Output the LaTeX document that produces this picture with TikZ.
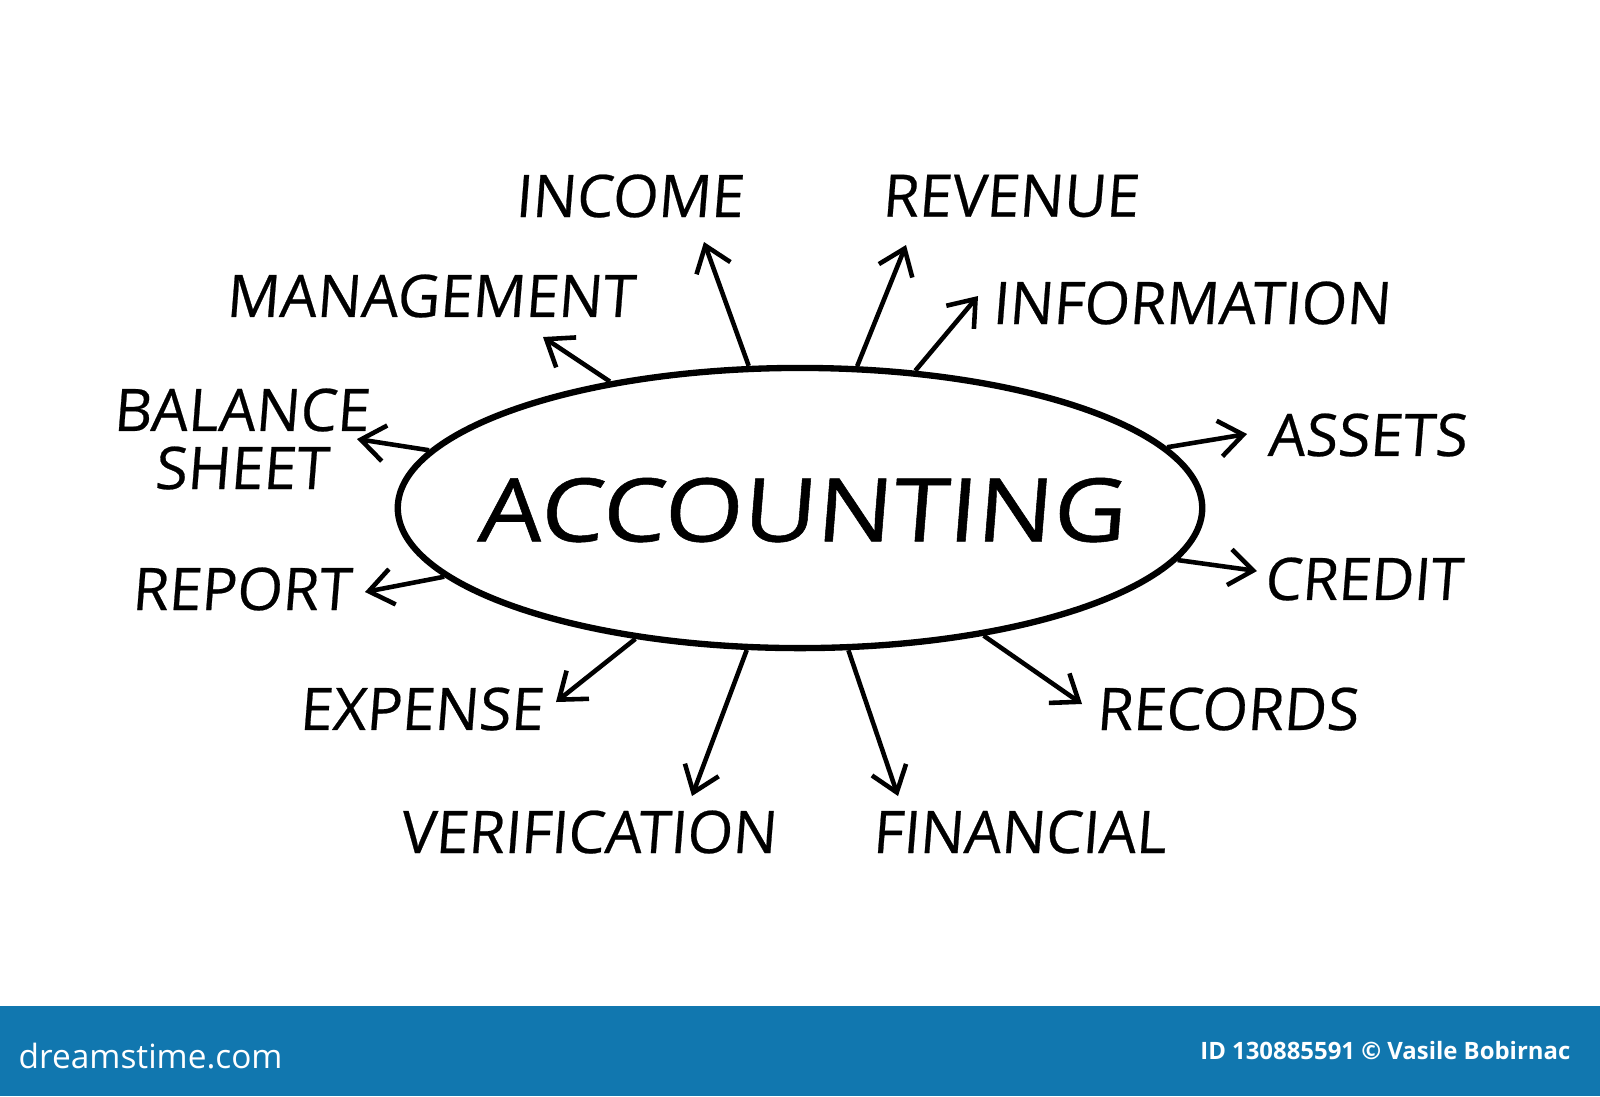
\documentclass[tikz,border=0pt]{standalone}
\usepackage{fontspec}
\setmainfont{Open Sans}[FakeSlant=0.08,FakeBold=0.4]
\newfontfamily\titlefont{Open Sans}[FakeSlant=0.08,FakeStretch=1.15,FakeBold=0.6]
\newfontfamily\bannerfont{Open Sans}
\usetikzlibrary{shapes.geometric,arrows.meta}
\definecolor{bannerblue}{HTML}{1177AF}

\begin{document}
\begin{tikzpicture}[x=0.01cm, y=-0.01cm,
  word/.style={font=\fontsize{16.7}{16.5}\selectfont, inner sep=0pt, align=center},
  spoke/.style={line width=1.3pt, -{Straight Barb[length=2.4mm,width=3.6mm,line width=1.3pt]}}]
\useasboundingbox (0,0) rectangle (1600,1096);
\fill [white] (0,0) rectangle (1600,1096);
\fill [bannerblue] (0,1006) rectangle (1600,1096);

\node [ellipse, draw, line width=1.8pt, minimum width=8.04cm, minimum height=2.8cm, inner sep=0pt] (acc) at (800,508) {};
\node [inner sep=0pt, font=\titlefont\fontsize{25}{30}\selectfont] (title) at (801,510) {ACCOUNTING};

\node [word] (income) at (629,196) {INCOME};
\node [word] (revenue) at (1010,196) {REVENUE};
\node [word] (management) at (430,296) {MANAGEMENT};
\node [word] (information) at (1191,303) {INFORMATION};
\node [word] (balance) at (241,439) {BALANCE\\ SHEET};
\node [word] (assets) at (1367,435) {ASSETS};
\node [word] (report) at (241,589) {REPORT};
\node [word] (credit) at (1363,579) {CREDIT};
\node [word] (expense) at (421,709) {EXPENSE};
\node [word] (records) at (1227,709) {RECORDS};
\node [word] (verification) at (588,832) {VERIFICATION};
\node [word] (financial) at (1019,832) {FINANCIAL};

\coordinate (incometip) at (704,242);
\coordinate (revenuetip) at (906,245);
\coordinate (informationtip) at (978,296);
\coordinate (managementtip) at (543,337);
\coordinate (balancetip) at (357,439);
\coordinate (assetstip) at (1247,434);
\coordinate (reporttip) at (365,592);
\coordinate (credittip) at (1257,571);
\coordinate (expensetip) at (556,702);
\coordinate (recordstip) at (1082,704);
\coordinate (verificationtip) at (692,796);
\coordinate (financialtip) at (898,796);

\draw [spoke] (acc) -- (incometip);
\draw [spoke] (acc) -- (revenuetip);
\draw [spoke] (acc) -- (informationtip);
\draw [spoke] (acc) -- (managementtip);
\draw [spoke] (acc) -- (balancetip);
\draw [spoke] (acc) -- (assetstip);
\draw [spoke] (acc) -- (reporttip);
\draw [spoke] (acc) -- (credittip);
\draw [spoke] (acc) -- (expensetip);
\draw [spoke] (acc) -- (recordstip);
\draw [spoke] (acc) -- (verificationtip);
\draw [spoke] (acc) -- (financialtip);

\node [anchor=west, inner sep=0pt, text=white, font=\bannerfont\fontsize{9.5}{12}\selectfont] (site) at (18,1056) {dreamstime.com};
\node [anchor=east, inner sep=0pt, text=white, font=\bannerfont\bfseries\fontsize{6.8}{8}\selectfont] (credits) at (1571,1051) {ID 130885591 © Vasile Bobirnac};
\end{tikzpicture}
\end{document}
